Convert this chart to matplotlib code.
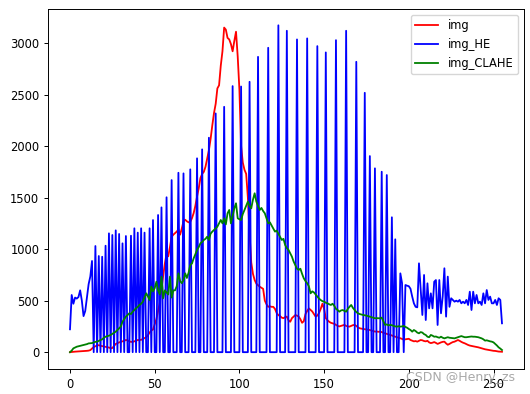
import numpy as np
import matplotlib
matplotlib.use("Agg")
import matplotlib.pyplot as plt

# ---- data: histogram of the original image (x = gray level 0..255)
img_hist = [
    0, 2, 3, 5, 6, 8, 9, 10, 11, 12, 13, 15, 20, 35, 50, 58, 65, 68, 62, 58,
    55, 52, 50, 45, 38, 40, 60, 80, 88, 95, 100, 105, 110, 118, 115, 105, 100, 100, 105, 112,
    118, 118, 120, 128, 135, 145, 165, 190, 210, 220, 270, 320, 400, 480, 610, 740, 860, 955, 930, 1020,
    1120, 1140, 1155, 1170, 1190, 1140, 1200, 1270, 1285, 1270, 1260, 1265, 1300, 1350, 1420, 1510, 1590, 1690, 1730, 1750,
    1800, 1880, 1960, 2070, 2200, 2320, 2410, 2560, 2590, 2780, 2920, 3150, 3130, 3050, 3035, 2990, 2920, 3020, 3110, 2870,
    2550, 2000, 1840, 1770, 1730, 1500, 1150, 870, 760, 700, 665, 650, 635, 625, 615, 500, 465, 440, 445, 440,
    440, 420, 380, 360, 350, 335, 330, 340, 345, 310, 295, 330, 345, 360, 355, 345, 320, 285, 300, 370,
    400, 425, 410, 395, 370, 345, 355, 380, 420, 470, 420, 330, 310, 295, 285, 280, 275, 265, 255, 250,
    255, 260, 265, 255, 250, 248, 255, 262, 265, 255, 240, 232, 228, 225, 222, 220, 218, 215, 210, 205,
    200, 200, 198, 199, 195, 188, 183, 178, 172, 167, 162, 155, 150, 145, 140, 135, 128, 122, 125, 128,
    130, 118, 112, 105, 108, 102, 110, 118, 115, 108, 105, 110, 95, 88, 92, 98, 90, 80, 88, 95,
    100, 102, 85, 72, 80, 90, 98, 102, 110, 118, 110, 100, 92, 86, 78, 70, 64, 60, 57, 54,
    50, 47, 42, 37, 33, 28, 25, 21, 18, 15, 13, 12, 9, 6, 5, 4,
]

# ---- data: histogram after global equalization (img_HE)
he_head = [222, 555, 470, 530, 520, 535, 600, 500, 350, 400, 530, 660, 735]  # levels 0..12
he_spike_levels = [13, 15, 17, 19, 21, 23, 25, 27, 29, 31, 33, 36, 38, 40, 42, 44, 47, 49,
                   52, 54, 57, 60, 64, 67, 71, 75, 78, 82, 86, 91, 96, 101, 106, 111, 117,
                   123, 128, 134, 140, 146, 151, 157, 163, 169, 174, 177, 180, 184, 187,
                   190, 192, 195, 196]
he_spike_counts = [885, 1030, 933, 926, 1033, 1153, 1137, 1182, 1147, 1056, 1127, 1130, 1202,
                   1160, 1202, 1160, 1202, 1282, 1331, 1405, 1503, 1670, 1741, 1735, 1774,
                   1881, 1968, 2081, 2317, 2381, 2582, 2578, 2624, 2866, 2954, 3172, 3119,
                   3035, 3045, 2970, 2909, 3028, 3119, 2818, 2517, 1903, 1784, 1751, 1719,
                   1309, 1095, 765, 670]
he_tail_start = 197
he_tail = [0, 652, 645, 640, 615, 540, 474, 440, 435, 862, 604, 361, 749, 312, 668, 425, 571,
           425, 684, 700, 264, 700, 377, 539, 814, 345, 733, 440, 523, 507, 490, 500, 490,
           507, 474, 490, 474, 507, 458, 587, 409, 587, 474, 555, 474, 490, 458, 571, 474,
           603, 507, 539, 474, 474, 507, 458, 523, 507, 280]  # levels 197..255

# ---- data: histogram after CLAHE
clahe_hist = [
    0, 15, 37, 45, 53, 57, 60, 65, 70, 72, 78, 85, 86, 88, 95, 100, 102, 110, 118, 125,
    140, 150, 155, 160, 167, 178, 190, 199, 215, 232, 248, 296, 320, 345, 360, 377, 370, 393, 410, 426,
    440, 458, 470, 490, 530, 571, 540, 506, 636, 590, 620, 684, 600, 560, 733, 523, 600, 580, 560, 733,
    530, 600, 600, 640, 765, 690, 669, 700, 765, 720, 770, 846, 860, 911, 950, 992, 1020, 1057, 1070, 1089,
    1100, 1121, 1090, 1150, 1170, 1186, 1200, 1218, 1250, 1283, 1250, 1300, 1240, 1348, 1380, 1250, 1320, 1396, 1445, 1299,
    1290, 1283, 1340, 1380, 1420, 1461, 1420, 1396, 1480, 1542, 1461, 1420, 1380, 1400, 1370, 1348, 1300, 1250, 1260, 1230,
    1200, 1170, 1180, 1150, 1120, 1089, 1100, 1040, 1010, 992, 960, 927, 880, 846, 810, 798, 810, 760, 717, 690,
    669, 640, 571, 590, 580, 560, 539, 520, 506, 495, 490, 480, 474, 465, 458, 470, 450, 420, 409, 393,
    405, 409, 400, 393, 420, 441, 458, 430, 409, 390, 377, 370, 365, 361, 358, 355, 350, 345, 340, 335,
    329, 330, 329, 329, 335, 300, 264, 270, 260, 264, 262, 255, 250, 248, 252, 248, 250, 255, 245, 237,
    225, 215, 199, 215, 205, 190, 183, 195, 190, 175, 167, 150, 145, 167, 160, 150, 152, 145, 140, 150,
    140, 134, 140, 145, 140, 138, 136, 134, 140, 145, 150, 156, 150, 145, 145, 148, 150, 152, 150, 150,
    148, 145, 140, 134, 125, 112, 115, 110, 105, 102, 95, 80, 65, 47, 35, 21,
]

legend_labels = ["img", "img_HE", "img_CLAHE"]
watermark = "CSDN @Henry_zs"

# build the HE histogram array from its pieces
he_hist = np.zeros(256)
he_hist[:len(he_head)] = he_head
he_hist[he_spike_levels] = he_spike_counts
he_hist[he_tail_start:he_tail_start + len(he_tail)] = he_tail

plt.rcParams["font.size"] = 8.3
fig = plt.figure(figsize=(5.3, 3.94), dpi=100)
ax = fig.add_axes([0.0913, 0.0647, 0.8966, 0.9125])

lw = 1.3
ax.plot(img_hist, color="red", lw=lw, label=legend_labels[0])
ax.plot(he_hist, color="blue", lw=lw, label=legend_labels[1])
ax.plot(clahe_hist, color="green", lw=lw, label=legend_labels[2])
ax.tick_params(length=3, width=0.7)
for s in ax.spines.values():
    s.set_linewidth(0.7)
ax.legend(loc="upper right", fontsize=8.3)

fig.text(0.972, 0.043, watermark, ha="right", va="center", fontsize=9,
         color="#9a9a9a", alpha=0.85)

fig.savefig("out.png", dpi=100)
